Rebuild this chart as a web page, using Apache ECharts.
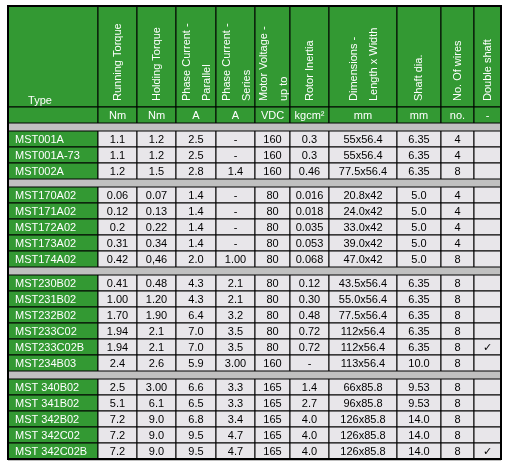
<!DOCTYPE html>
<html><head><meta charset="utf-8">
<script src="https://cdn.jsdelivr.net/npm/echarts@6/dist/echarts.min.js"></script>
<style>html,body{margin:0;padding:0;background:#fff}#c{width:505px;height:464px}</style>
</head><body><div id="c"></div>
<script>
const headers = [["Type"],["Running Torque"],["Holding Torque"],["Phase Current -","Parallel"],["Phase Current -","Series"],["Motor Voltage -","up to"],["Rotor Inertia"],["Dimensions -","Length x Width"],["Shaft dia."],["No. Of wires"],["Double shaft"]];
const units = ["","Nm","Nm","A","A","VDC","kgcm²","mm","mm","no.","-"];
const group1 = [
 ["MST001A","1.1","1.2","2.5","-","160","0.3","55x56.4","6.35","4",""],
 ["MST001A-73","1.1","1.2","2.5","-","160","0.3","55x56.4","6.35","4",""],
 ["MST002A","1.2","1.5","2.8","1.4","160","0.46","77.5x56.4","6.35","8",""]];
const group2 = [
 ["MST170A02","0.06","0.07","1.4","-","80","0.016","20.8x42","5.0","4",""],
 ["MST171A02","0.12","0.13","1.4","-","80","0.018","24.0x42","5.0","4",""],
 ["MST172A02","0.2","0.22","1.4","-","80","0.035","33.0x42","5.0","4",""],
 ["MST173A02","0.31","0.34","1.4","-","80","0.053","39.0x42","5.0","4",""],
 ["MST174A02","0.42","0,46","2.0","1.00","80","0.068","47.0x42","5.0","8",""]];
const group3 = [
 ["MST230B02","0.41","0.48","4.3","2.1","80","0.12","43.5x56.4","6.35","8",""],
 ["MST231B02","1.00","1.20","4.3","2.1","80","0.30","55.0x56.4","6.35","8",""],
 ["MST232B02","1.70","1.90","6.4","3.2","80","0.48","77.5x56.4","6.35","8",""],
 ["MST233C02","1.94","2.1","7.0","3.5","80","0.72","112x56.4","6.35","8",""],
 ["MST233C02B","1.94","2.1","7.0","3.5","80","0.72","112x56.4","6.35","8","✓"],
 ["MST234B03","2.4","2.6","5.9","3.00","160","-","113x56.4","10.0","8",""]];
const group4 = [
 ["MST 340B02","2.5","3.00","6.6","3.3","165","1.4","66x85.8","9.53","8",""],
 ["MST 341B02","5.1","6.1","6.5","3.3","165","2.7","96x85.8","9.53","8",""],
 ["MST 342B02","7.2","9.0","6.8","3.4","165","4.0","126x85.8","14.0","8",""],
 ["MST 342C02","7.2","9.0","9.5","4.7","165","4.0","126x85.8","14.0","8",""],
 ["MST 342C02B","7.2","9.0","9.5","4.7","165","4.0","126x85.8","14.0","8","✓"]];
const groups = [group1, group2, group3, group4];

const colX = [8,98,137,176,216,255,290,329,397,441,474,501];
const GREEN = '#339933', CELL = '#e8e6ea', SEP = '#c0c0c0', FONT = '11px "Liberation Sans", Arial, sans-serif';
const tableTop = 6, headBottom = 107, unitBottom = 123, rowH = 16, sepH = 8;
const els = [];
const rect = (x,y,w,h,fill)=>els.push({type:'rect',shape:{x,y,width:w,height:h},style:{fill,stroke:'#000',lineWidth:1}});
const txt = (x,y,t,fill,align,rot)=>els.push({type:'text',x,y,rotation:rot||0,style:{text:t,fill,font:FONT,align:align||'center',verticalAlign:'middle'}});
els.push({type:'rect',shape:{x:colX[0],y:tableTop,width:colX[11]-colX[0],height:455},style:{fill:SEP}});
for(let i=0;i<11;i++){
  const x0=colX[i], w=colX[i+1]-x0, cx=x0+w/2;
  rect(x0,tableTop,w,headBottom-tableTop,GREEN);
  rect(x0,headBottom,w,unitBottom-headBottom,GREEN);
  if(i===0){ txt(40,101,headers[0][0],'#fff','center'); }
  else {
    const h=headers[i];
    if(h.length===1) txt(cx,101,h[0],'#fff','left',Math.PI/2);
    else { txt(cx-9,101,h[0],'#fff','left',Math.PI/2); txt(cx+11,101,h[1],'#fff','left',Math.PI/2); }
  }
  txt(cx,115.5,units[i],'#fff','center');
}
let y = unitBottom + sepH;
groups.forEach((g,gi)=>{
  g.forEach(row=>{
    for(let i=0;i<11;i++){
      const x0=colX[i], w=colX[i+1]-x0;
      rect(x0,y,w,rowH,i===0?GREEN:CELL);
      if(i===0) txt(x0+7,y+rowH/2+0.5,row[0],'#fff','left');
      else txt(x0+w/2,y+rowH/2+0.5,row[i],'#000','center');
    }
    y+=rowH;
  });
  if(gi<groups.length-1){ y+=sepH; }
});
els.push({type:'rect',shape:{x:colX[0],y:tableTop,width:colX[11]-colX[0],height:y-tableTop},style:{fill:'none',stroke:'#000',lineWidth:2}});
const chart = echarts.init(document.getElementById('c'));
chart.setOption({animation:false, graphic:{elements:els}});
</script></body></html>
